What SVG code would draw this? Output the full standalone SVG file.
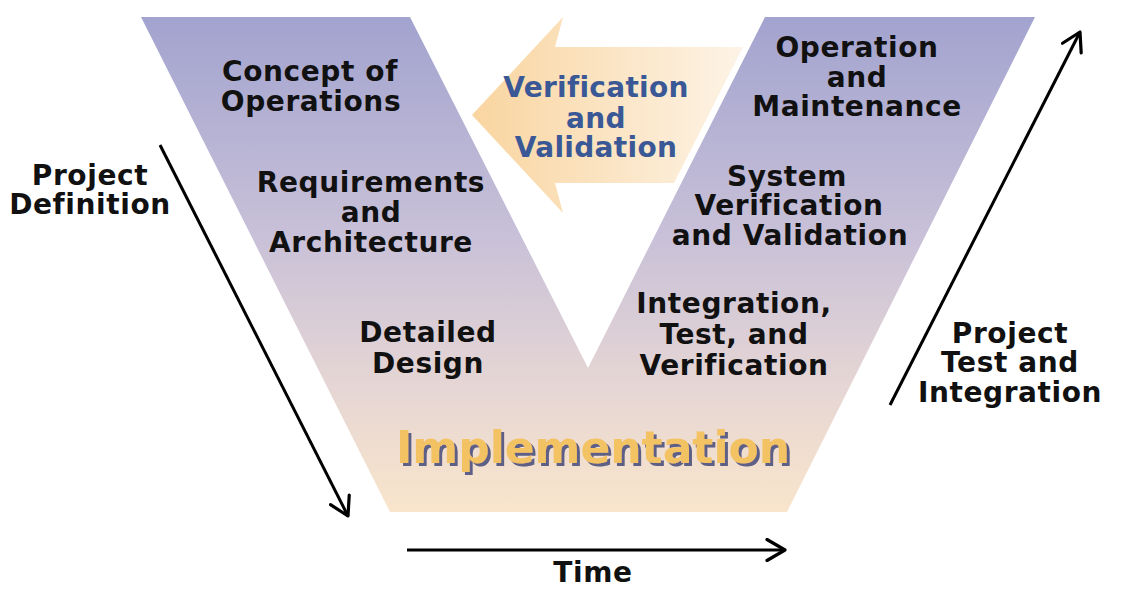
<svg xmlns="http://www.w3.org/2000/svg" width="1135" height="613" viewBox="0 0 1135 613">
<defs>
<linearGradient id="vgrad" x1="0" y1="17" x2="0" y2="512" gradientUnits="userSpaceOnUse">
<stop offset="0" stop-color="#a2a3cf"/>
<stop offset="0.45" stop-color="#c9c1d8"/>
<stop offset="0.75" stop-color="#e6d6d4"/>
<stop offset="1" stop-color="#f9e5cb"/>
</linearGradient>
<linearGradient id="agrad" x1="472" y1="0" x2="750" y2="0" gradientUnits="userSpaceOnUse">
<stop offset="0" stop-color="#f9d5a0"/>
<stop offset="1" stop-color="#fdf4e8"/>
</linearGradient>
<filter id="shadow" x="-5%" y="-20%" width="110%" height="140%">
<feOffset in="SourceAlpha" dx="3" dy="3" result="off"/>
<feFlood flood-color="#5d5f86"/>
<feComposite in2="off" operator="in" result="sh"/>
<feMerge><feMergeNode in="sh"/><feMergeNode in="SourceGraphic"/></feMerge>
</filter>
<marker id="ah" viewBox="0 0 22 24" refX="20" refY="12" markerWidth="22" markerHeight="24" markerUnits="userSpaceOnUse" orient="auto">
<path d="M2,1.5 L20,12 L2,22.5" fill="none" stroke="#000" stroke-width="3.2" stroke-linecap="round" stroke-linejoin="round"/>
</marker>
<style>
text{font-family:"DejaVu Sans","Liberation Sans",sans-serif;font-weight:bold;text-anchor:middle}
.lbl{font-size:28px;letter-spacing:0.6px;fill:#111}
.vv{font-size:28px;letter-spacing:0.3px;fill:#3a5896}
.imp{font-size:44px;fill:#f2c264}
.conn{stroke:#000;stroke-width:3;fill:none;marker-end:url(#ah)}
</style>
</defs>
<rect width="1135" height="613" fill="#fff"/>
<g id="vshape">
<polygon points="141,17 410,17 588,368 765,17 1035,17 787,512 390,512" fill="url(#vgrad)"/>
</g>
<g id="vv-arrow">
<polygon points="563,17 472,115 563,213 555,183 674,183 743,47 555,47" fill="url(#agrad)"/>
<text class="vv"><tspan x="596" y="97">Verification</tspan><tspan x="596" y="128">and</tspan><tspan x="596" y="157">Validation</tspan></text>
</g>
<g id="concept">
<text class="lbl"><tspan x="310" y="81">Concept of</tspan><tspan x="311" y="111">Operations</tspan></text>
</g>
<g id="requirements">
<text class="lbl"><tspan x="371" y="192">Requirements</tspan><tspan x="371" y="222">and</tspan><tspan x="371" y="252">Architecture</tspan></text>
</g>
<g id="detailed">
<text class="lbl"><tspan x="428" y="342">Detailed</tspan><tspan x="428" y="373">Design</tspan></text>
</g>
<g id="implementation">
<text class="imp" x="593" y="463" filter="url(#shadow)">Implementation</text>
</g>
<g id="integration">
<text class="lbl"><tspan x="734" y="313">Integration,</tspan><tspan x="734" y="344">Test, and</tspan><tspan x="734" y="375">Verification</tspan></text>
</g>
<g id="system">
<text class="lbl"><tspan x="787" y="186">System</tspan><tspan x="789" y="215">Verification</tspan><tspan x="790" y="245">and Validation</tspan></text>
</g>
<g id="operation">
<text class="lbl"><tspan x="857" y="57">Operation</tspan><tspan x="857" y="87">and</tspan><tspan x="857" y="116">Maintenance</tspan></text>
</g>
<g id="project-definition">
<text class="lbl"><tspan x="90" y="185">Project</tspan><tspan x="90" y="214">Definition</tspan></text>
</g>
<g id="project-test">
<text class="lbl"><tspan x="1010" y="343">Project</tspan><tspan x="1010" y="372">Test and</tspan><tspan x="1010" y="402">Integration</tspan></text>
</g>
<g id="time">
<text class="lbl" x="593" y="582">Time</text>
</g>
<g id="connectors">
<line class="conn" x1="160" y1="145" x2="348" y2="516"/>
<line class="conn" x1="407" y1="550" x2="785" y2="550"/>
<line class="conn" x1="890" y1="405" x2="1080" y2="32"/>
</g>
</svg>
